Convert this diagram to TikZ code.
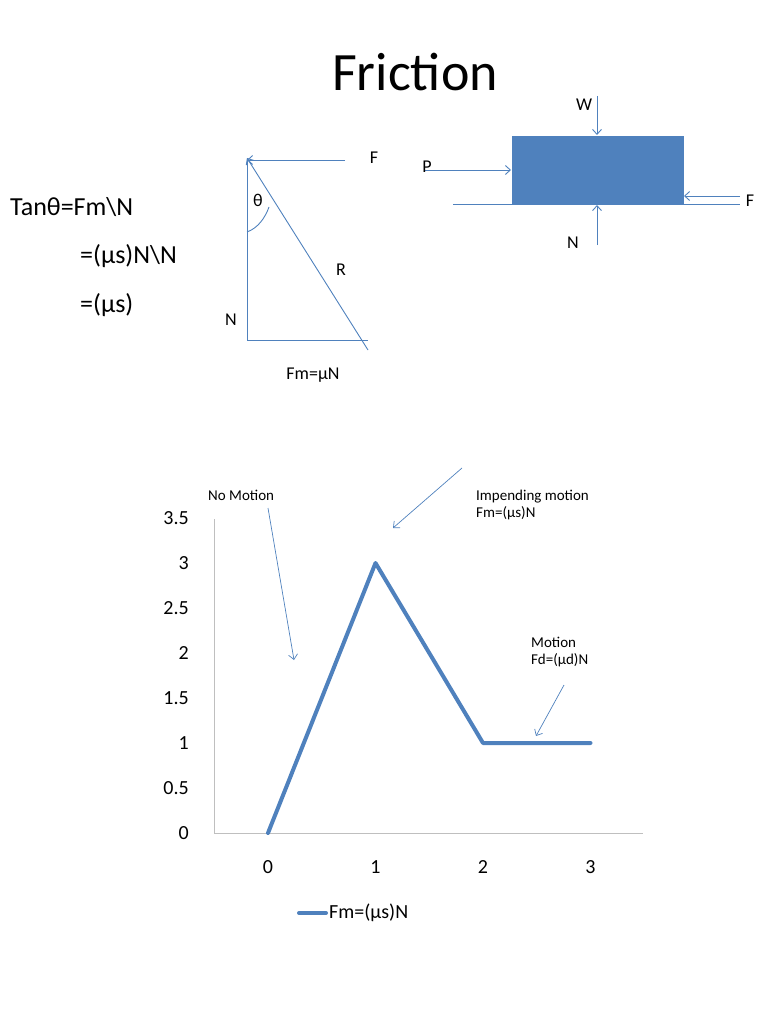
\documentclass[tikz,border=0pt]{standalone}
\usepackage{fontspec}
\setmainfont{Carlito}
\usetikzlibrary{arrows.meta}
\definecolor{bl}{RGB}{79,129,189}
\begin{document}
\begin{tikzpicture}[x=1pt,y=-1pt,
  ln/.style={draw=bl,line width=0.9pt},
  ar/.style={ln,-{Straight Barb[length=5pt,width=9pt]}},
  lbl/.style={font=\fontsize{18}{20}\selectfont,inner sep=0pt},
  sm/.style={font=\fontsize{15}{17}\selectfont,inner sep=0pt,align=left},
  tk/.style={font=\fontsize{20}{22}\selectfont,inner sep=0pt},
  eq/.style={anchor=west,font=\fontsize{26}{30}\selectfont,inner sep=0pt}]
\useasboundingbox (0,0) rectangle (768,1024);
\node (title) at (415,72) {\fontsize{54}{60}\selectfont Friction};
% equations
\node[eq] (e1) at (10,207) {Tanθ=Fm\textbackslash N};
\node[eq] (e2) at (80,256) {=(μs)N\textbackslash N};
\node[eq] (e3) at (80,305) {=(μs)};
% triangle
\coordinate (tp) at (247,158); \coordinate (bl0) at (247,340);
\coordinate (br) at (368,340); \coordinate (he) at (368,350);
\coordinate (fs) at (345,160); \coordinate (fe) at (247,160);
\draw[ln] (bl0) -- (tp);
\draw[ln] (bl0) -- (br);
\draw[ar] (he) -- (tp);
\draw[ar] (fs) -- (fe);
\draw[ln] (247,232) .. controls (258,228) and (265,218) .. (269,207);
\node[lbl] (lF) at (374,158) {F};
\node[lbl] (lth) at (258,200) {θ};
\node[lbl] (lR) at (341,270) {R};
\node[lbl] (lN) at (231,320) {N};
\node[lbl] (lFm) at (313,375) {Fm=μN};
% block
\node[draw=bl,fill=bl,line width=0.9pt,minimum width=171pt,minimum height=68pt,inner sep=0pt,anchor=north west] (blk) at (512,136) {};
\coordinate (g1) at (453,204); \coordinate (g2) at (740,204);
\draw[ln] (g1) -- (g2);
\coordinate (ws) at (597,96); \coordinate (we) at (597,135);
\draw[ar] (ws) -- (we);
\node[lbl] (lW) at (584,105) {W};
\coordinate (ps) at (425,170); \coordinate (pe) at (511,170);
\draw[ar] (ps) -- (pe);
\node[lbl] (lP) at (427,167) {P};
\coordinate (fbs) at (740,196); \coordinate (fbe) at (684,196);
\draw[ar] (fbs) -- (fbe);
\node[lbl] (lF2) at (750,201) {F};
\coordinate (ns) at (597,245); \coordinate (ne) at (597,205);
\draw[ar] (ns) -- (ne);
\node[lbl] (lN2) at (573,243) {N};
% chart
\coordinate (o) at (268,833);
\draw[gray!50,line width=0.8pt] (214,519) -- (214,833) -- (643,833);
\foreach \v/\t in {0/0,1/0.5,2/1,3/1.5,4/2,5/2.5,6/3,7/3.5}
  \node[tk,anchor=east] (y\v) at (189,833-45*\v) {\t};
\foreach \v in {0,1,2,3}
  \node[tk] (x\v) at (268+107.5*\v,867) {\v};
\draw[bl,line width=4pt,line join=round,line cap=round]
  (268,833) -- (375.5,563) -- (483,743) -- (590.5,743);
\node[sm,anchor=west] (nm) at (208,495) {No Motion};
\node[sm,anchor=west] (im) at (476,505) {Impending motion\\Fm=(μs)N};
\node[sm,anchor=west] (mo) at (531,652) {Motion\\Fd=(μd)N};
\coordinate (a1s) at (268,508); \coordinate (a1e) at (294,660);
\coordinate (a2s) at (462,468); \coordinate (a2e) at (393,528);
\coordinate (a3s) at (564,685); \coordinate (a3e) at (536,736);
\draw[ar,line width=0.7pt] (a1s) -- (a1e);
\draw[ar,line width=0.7pt] (a2s) -- (a2e);
\draw[ar,line width=0.7pt] (a3s) -- (a3e);
\coordinate (lg1) at (299,913); \coordinate (lg2) at (326,913);
\draw[bl,line width=4pt,line cap=round] (lg1) -- (lg2);
\node[tk,anchor=west] (lgt) at (329,913) {Fm=(μs)N};
\end{tikzpicture}
\end{document}
